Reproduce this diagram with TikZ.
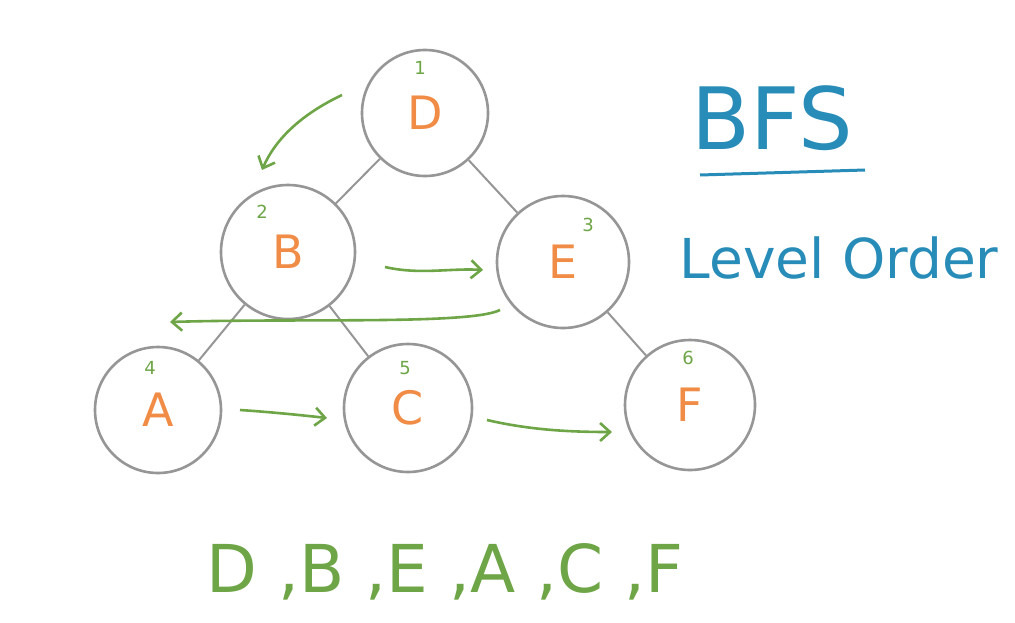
\documentclass[tikz,border=0pt]{standalone}
\usepackage{fontspec}
\setmainfont{DejaVu Sans}
\usetikzlibrary{arrows.meta}
\definecolor{gr}{RGB}{110,165,70}
\definecolor{orn}{RGB}{240,140,70}
\definecolor{bl}{RGB}{40,140,185}
\definecolor{cg}{RGB}{150,150,150}
\begin{document}
\begin{tikzpicture}[x=1pt,y=-1pt,
  vtx/.style={circle,draw=cg,line width=2.6pt,fill=white,text=orn,font=\fontsize{46}{46}\selectfont},
  num/.style={text=gr,font=\fontsize{18}{18}\selectfont},
  edge/.style={draw=cg,line width=2pt},
  trav/.style={draw=gr,line width=2.6pt,-{Straight Barb[length=10pt,width=18pt]}}]
\useasboundingbox (0,0) rectangle (1015,622);
\fill[white] (0,0) rectangle (1015,622);
\node[vtx,minimum size=126pt] (D) at (425,113) {D};
\node[vtx,minimum size=134pt] (B) at (288,252) {B};
\node[vtx,minimum size=132pt] (E) at (563,262) {E};
\node[vtx,minimum size=126pt] (A) at (158,410) {A};
\node[vtx,minimum size=128pt] (C) at (408,408) {C};
\node[vtx,minimum size=130pt] (F) at (690,405) {F};
\draw[edge] (D) -- (B);
\draw[edge] (D) -- (E);
\draw[edge] (B) -- (A);
\draw[edge] (B) -- (C);
\draw[edge] (E) -- (F);
\node[num] (n1) at (420,68) {1};
\node[num] (n2) at (262,212) {2};
\node[num] (n3) at (588,225) {3};
\node[num] (n4) at (150,368) {4};
\node[num] (n5) at (405,368) {5};
\node[num] (n6) at (688,358) {6};
\coordinate (s1) at (342,95); \coordinate (t1) at (262,170);
\draw[trav] (s1) .. controls (300,115) and (275,140) .. (t1);
\coordinate (s2) at (385,267); \coordinate (t2) at (483,270);
\draw[trav] (s2) .. controls (420,275) and (450,268) .. (t2);
\coordinate (s3) at (500,310); \coordinate (t3) at (170,322);
\draw[trav] (s3) .. controls (470,325) and (300,318) .. (t3);
\coordinate (s4) at (240,410); \coordinate (t4) at (327,418);
\draw[trav] (s4) .. controls (270,412) and (300,415) .. (t4);
\coordinate (s5) at (487,420); \coordinate (t5) at (612,432);
\draw[trav] (s5) .. controls (530,430) and (570,432) .. (t5);
\node[text=bl,font=\fontsize{86}{86}\selectfont] (bfs) at (772,118) {BFS};
\coordinate (u1) at (700,175); \coordinate (u2) at (865,170);
\draw[bl,line width=3pt] (u1) -- (u2);
\node[text=bl,font=\fontsize{55}{55}\selectfont,anchor=west] (lvl) at (676,258) {Level Order};
\node[text=gr,font=\fontsize{66}{66}\selectfont] (ord) at (445,572) {D ,B ,E ,A ,C ,F};
\end{tikzpicture}
\end{document}
